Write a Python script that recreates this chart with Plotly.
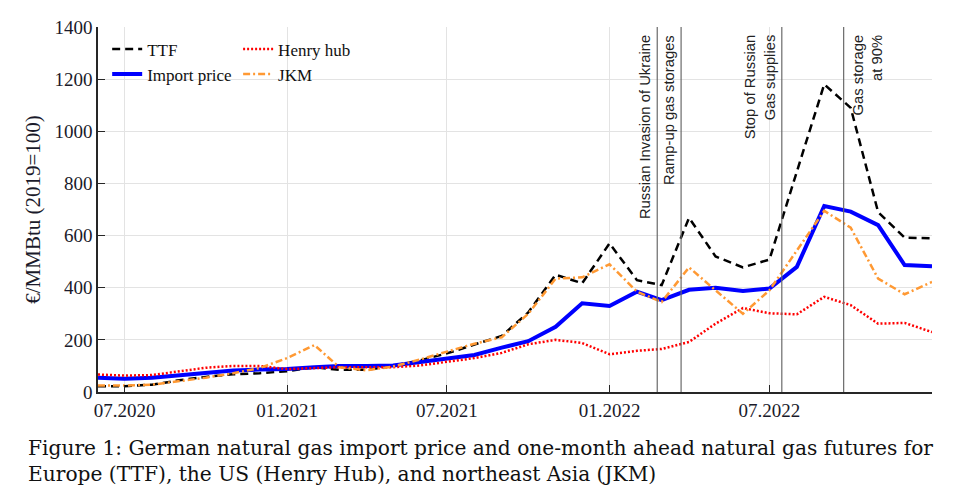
import plotly.graph_objects as go

months = [
    "2020-06-01", "2020-07-01", "2020-08-01", "2020-09-01", "2020-10-01", "2020-11-01", "2020-12-01",
    "2021-01-01", "2021-02-01", "2021-03-01", "2021-04-01", "2021-05-01", "2021-06-01",
    "2021-07-01", "2021-08-01", "2021-09-01", "2021-10-01", "2021-11-01", "2021-12-01",
    "2022-01-01", "2022-02-01", "2022-03-01", "2022-04-01", "2022-05-01", "2022-06-01",
    "2022-07-01", "2022-08-01", "2022-09-01", "2022-10-01", "2022-11-01", "2022-12-01",
    "2023-01-01",
]
ttf = [22, 22, 28, 45, 58, 68, 72,
       80, 95, 85, 85, 100, 122, 148, 182, 215, 305, 450, 417,
       570, 429, 410, 668, 520, 478, 508, 845, 1180, 1090, 690, 592,
       590]
import_price = [55, 51, 55, 65, 74, 82, 86,
                88, 95, 100, 100, 102, 115, 130, 142, 170, 195, 250, 340,
                330, 385, 352, 392, 400, 387, 397, 480, 713, 692, 640, 487,
                482]
henry_hub = [67, 63, 65, 80, 93, 100, 100,
             88, 93, 95, 95, 95, 102, 115, 130, 150, 183, 200, 188,
             145, 158, 165, 192, 262, 322, 302, 298, 365, 333, 262, 265,
             230]
jkm = [25, 25, 28, 42, 55, 72, 92,
       130, 180, 95, 83, 98, 125, 155, 185, 210, 300, 435, 440,
       490, 385, 345, 478, 390, 300, 390, 540, 695, 630, 435, 375,
       422]

tick_dates = ["2020-07-01", "2021-01-01", "2021-07-01", "2022-01-01", "2022-07-01"]
tick_labels = ["07.2020", "01.2021", "07.2021", "01.2022", "07.2022"]
y_ticks = [0, 200, 400, 600, 800, 1000, 1200, 1400]

events = [
    ("2022-02-24", "Russian Invasion of Ukraine", "right"),
    ("2022-03-23", "Ramp-up gas storages", "right"),
    ("2022-07-15", "Stop of Russian<br>Gas supplies", "right"),
    ("2022-09-23", "Gas storage<br>at 90%", "left"),
]

caption = ("Figure 1: German natural gas import price and one-month ahead natural gas futures for<br>"
           "Europe (TTF), the US (Henry Hub), and northeast Asia (JKM)")

SERIF = "Liberation Serif, Times New Roman, serif"
CAPSERIF = "DejaVu Serif, serif"
SANS = "Liberation Sans, Arial, sans-serif"

fig = go.Figure()
fig.add_trace(go.Scatter(x=months, y=ttf, mode="lines", name="TTF", legend="legend",
                         line=dict(color="black", width=2.5, dash="8px,5px")))
fig.add_trace(go.Scatter(x=months, y=import_price, mode="lines", name="Import price", legend="legend",
                         line=dict(color="#0000FF", width=4)))
fig.add_trace(go.Scatter(x=months, y=henry_hub, mode="lines", name="Henry hub", legend="legend2",
                         line=dict(color="#FF0000", width=2.5, dash="2px,2px")))
fig.add_trace(go.Scatter(x=months, y=jkm, mode="lines", name="JKM", legend="legend2",
                         line=dict(color="#FF9933", width=2.5, dash="7px,3px,2px,3px")))

shapes = []
annotations = []
for d, txt, side in events:
    shapes.append(dict(type="line", xref="x", yref="paper", x0=d, x1=d, y0=0, y1=1,
                       line=dict(color="#6a6a6a", width=1.2)))
    annotations.append(dict(x=d, y=0.984, xref="x", yref="paper", text=txt, showarrow=False,
                            textangle=-90, xanchor=side, yanchor="top", align="right",
                            xshift=-2 if side == "right" else 4,
                            font=dict(family=SANS, size=14.8, color="#222")))

annotations.append(dict(x=-0.086, y=-0.116, xref="paper", yref="paper", text=caption, showarrow=False,
                        xanchor="left", yanchor="top", align="left",
                        font=dict(family=CAPSERIF, size=20.2, color="#111")))

fig.update_layout(
    width=955, height=498,
    margin=dict(l=98, r=23, t=27, b=106),
    paper_bgcolor="white", plot_bgcolor="white",
    shapes=shapes, annotations=annotations,
    legend=dict(x=0.011, y=0.988, xanchor="left", yanchor="top", bgcolor="rgba(0,0,0,0)",
                font=dict(family=SERIF, size=17, color="#111"), itemwidth=30,
                tracegroupgap=0),
    legend2=dict(x=0.168, y=0.988, xanchor="left", yanchor="top", bgcolor="rgba(0,0,0,0)",
                 font=dict(family=SERIF, size=17, color="#111"), itemwidth=30,
                 tracegroupgap=0),
    xaxis=dict(range=["2020-06-01", "2023-01-01"], tickvals=tick_dates, ticktext=tick_labels,
               showgrid=True, gridcolor="#e3e3e3", gridwidth=1,
               showline=True, linecolor="#262626", linewidth=1.5,
               ticks="inside", ticklen=7, tickcolor="#262626",
               tickfont=dict(family=SERIF, size=19, color="#1a1a2a"), zeroline=False),
    yaxis=dict(range=[0, 1400], tickvals=y_ticks,
               showgrid=True, gridcolor="#e3e3e3", gridwidth=1,
               showline=True, linecolor="#262626", linewidth=1.5,
               ticks="inside", ticklen=7, tickcolor="#262626",
               tickfont=dict(family=SERIF, size=19, color="#1a1a2a"), zeroline=False,
               title=dict(text="€/MMBtu (2019=100)", font=dict(family=SERIF, size=21, color="#1a1a2a"),
                          standoff=8)),
)

fig.write_html("out.html")
